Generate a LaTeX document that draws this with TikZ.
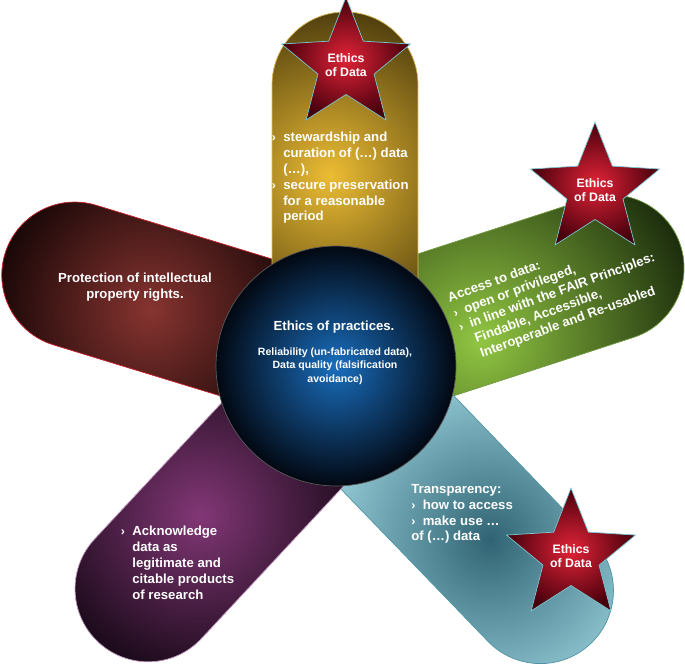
\documentclass[tikz,border=0pt]{standalone}
\usepackage{fontspec}
\setmainfont{Liberation Sans}
\usetikzlibrary{shapes.geometric}

\definecolor{yin}{RGB}{236,188,52}
\definecolor{yout}{RGB}{45,35,5}
\definecolor{yline}{RGB}{222,190,90}
\definecolor{gin}{RGB}{145,198,66}
\definecolor{gout}{RGB}{18,32,8}
\definecolor{gline}{RGB}{120,160,70}
\definecolor{tin}{RGB}{48,100,116}
\definecolor{tout}{RGB}{150,205,216}
\definecolor{tline}{RGB}{80,150,165}
\definecolor{pin}{RGB}{130,55,118}
\definecolor{pout}{RGB}{22,8,22}
\definecolor{pline}{RGB}{200,160,200}
\definecolor{min}{RGB}{135,52,48}
\definecolor{mout}{RGB}{22,6,6}
\definecolor{mline}{RGB}{210,40,50}
\definecolor{bin}{RGB}{25,110,190}
\definecolor{bout}{RGB}{2,8,18}
\definecolor{bline}{RGB}{90,90,90}
\definecolor{sin}{RGB}{225,35,55}
\definecolor{sout}{RGB}{70,0,12}
\definecolor{sline}{RGB}{120,200,210}

% capsule: base point, angle, length to the round end (px)
\newcommand\capsule[3]{(#1) ++(#2-90:1.46cm) -- ++(#2:#3*0.02cm) arc[start angle=#2-90, delta angle=180, radius=1.46cm] -- ++(#2+180:#3*0.02cm) -- cycle}
% petal: base, angle, length, light spot, spot radius, colour prefix
\newcommand\petal[6]{%
  \begin{scope}
    \clip \capsule{#1}{#2}{#3};
    \fill[#6out] (0,0) rectangle (685,666);
    \shade[inner color=#6in, outer color=#6out] (#4) circle[radius=#5*0.02cm];
  \end{scope}
  \draw[#6line, thin] \capsule{#1}{#2}{#3};}
\newcommand\bul{\makebox[6.5pt][l]{\fontsize{7}{7}\selectfont ›}}

\tikzset{txt/.style={text=white, font=\bfseries\fontsize{7.5}{9}\selectfont, inner sep=0pt, align=left},
  ethics/.style={star, star points=5, star point ratio=2.3, minimum size=2.3cm, inner sep=0pt,
    draw=sline, thin, shade, inner color=sin, outer color=sout, text=white, align=center,
    font=\bfseries\fontsize{7}{8.4}\selectfont}}

\begin{document}
\begin{tikzpicture}[x=0.02cm, y=0.02cm]
  \useasboundingbox (0,0) rectangle (685,666);

  \petal{340,310}{18}{285}{480,326}{240}{g}
  \petal{339,284}{-46}{290}{490,126}{170}{t}
  \petal{339,282}{227}{280}{200,151}{170}{p}
  \petal{333,312}{163}{270}{150,356}{160}{m}
  \petal{345,300}{90}{281}{330,491}{200}{y}

  \node[circle, minimum size=4.8cm, inner sep=0pt, draw=bline, thin, shade,
        inner color=bin, outer color=bout] (core) at (336,300) {};
  \node[txt] (ctitle) at (334,339) {Ethics of practices.};
  \node[txt, align=center, font=\bfseries\fontsize{6}{7.6}\selectfont] (csub) at (335,300)
       {Reliability (un-fabricated data),\\Data quality (falsification\\avoidance)};

  \node[txt, anchor=north west] (ytext) at (283,534)
       {\llap{\bul}stewardship and\\curation of (…) data\\(…),\\\llap{\bul}secure preservation\\for a reasonable\\period};
  \node[txt, anchor=north west, rotate=20] (gtext) at (446,373)
       {Access to data:\\\bul open or privileged,\\\bul in line with the FAIR Principles:\\\hspace*{6.5pt}Findable, Accessible,\\\hspace*{6.5pt}Interoperable and Re-usabled};
  \node[txt, anchor=north west] (ttext) at (411,182)
       {Transparency:\\\bul how to access\\\bul make use …\\of (…) data};
  \node[txt, anchor=north west] (ptext) at (132,140)
       {\llap{\bul}Acknowledge\\data as\\legitimate and\\citable products\\of research};
  \node[txt, align=center] (mtext) at (135,379) {Protection of intellectual\\property rights.};

  \node[ethics] (ystar) at (346,601) {Ethics\\of Data};
  \node[ethics] (gstar) at (595,476) {Ethics\\of Data};
  \node[ethics] (tstar) at (571,110) {Ethics\\of Data};
\end{tikzpicture}
\end{document}
